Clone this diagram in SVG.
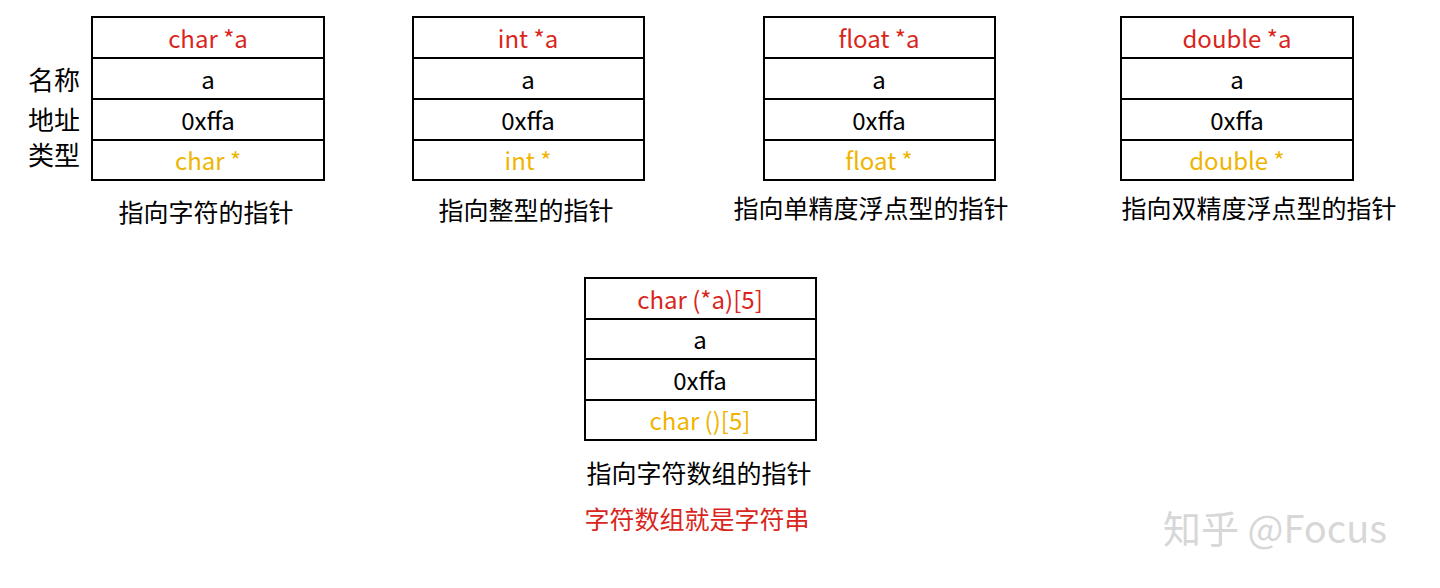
<svg xmlns="http://www.w3.org/2000/svg" width="1440" height="588" viewBox="0 0 1440 588">
<style>
text{font-family:"Noto Sans CJK SC","Noto Sans",sans-serif;font-size:24px;text-anchor:middle;fill:#000}
.c{fill:#fff;stroke:#000;stroke-width:2}
.r{fill:#d9261c}
.y{fill:#f0b400}
.cap{font-size:25px}
</style>
<rect width="1440" height="588" fill="#fff"/>
<g id="labels">
<text x="54" y="90" style="font-size:26px">名称</text>
<text x="54" y="130" style="font-size:26px">地址</text>
<text x="54" y="165" style="font-size:26px">类型</text>
</g>
<g id="node1">
<rect class="c" x="92" y="17" width="232" height="163"/>
<path d="M92 58H324M92 99H324M92 140H324" stroke="#000" stroke-width="2"/>
<text class="r" x="208" y="48">char *a</text><text x="208" y="89">a</text><text x="208" y="130">0xffa</text><text class="y" x="208" y="170">char *</text>
<text class="cap" x="206" y="222">指向字符的指针</text>
</g>
<g id="node2">
<rect class="c" x="413" y="17" width="231" height="163"/>
<path d="M413 58H644M413 99H644M413 140H644" stroke="#000" stroke-width="2"/>
<text class="r" x="528" y="48">int *a</text><text x="528" y="89">a</text><text x="528" y="130">0xffa</text><text class="y" x="528" y="170">int *</text>
<text class="cap" x="526" y="220">指向整型的指针</text>
</g>
<g id="node3">
<rect class="c" x="764" y="17" width="231" height="163"/>
<path d="M764 58H995M764 99H995M764 140H995" stroke="#000" stroke-width="2"/>
<text class="r" x="879" y="48">float *a</text><text x="879" y="89">a</text><text x="879" y="130">0xffa</text><text class="y" x="879" y="170">float *</text>
<text class="cap" x="871" y="218">指向单精度浮点型的指针</text>
</g>
<g id="node4">
<rect class="c" x="1121" y="17" width="232" height="163"/>
<path d="M1121 58H1353M1121 99H1353M1121 140H1353" stroke="#000" stroke-width="2"/>
<text class="r" x="1237" y="48">double *a</text><text x="1237" y="89">a</text><text x="1237" y="130">0xffa</text><text class="y" x="1237" y="170">double *</text>
<text class="cap" x="1259" y="218">指向双精度浮点型的指针</text>
</g>
<g id="node5">
<rect class="c" x="585" y="278" width="231" height="162"/>
<path d="M585 319H816M585 359H816M585 400H816" stroke="#000" stroke-width="2"/>
<text class="r" x="700" y="309">char (*a)[5]</text><text x="700" y="349">a</text><text x="700" y="390">0xffa</text><text class="y" x="700" y="430">char ()[5]</text>
<text class="cap" x="699" y="483">指向字符数组的指针</text>
<text class="cap r" x="697" y="529">字符数组就是字符串</text>
</g>
<g id="connectors"/>
<text x="1275" y="543" style="font-size:38px;fill:#ccc;fill-opacity:0.8">知乎 @Focus</text>
</svg>
